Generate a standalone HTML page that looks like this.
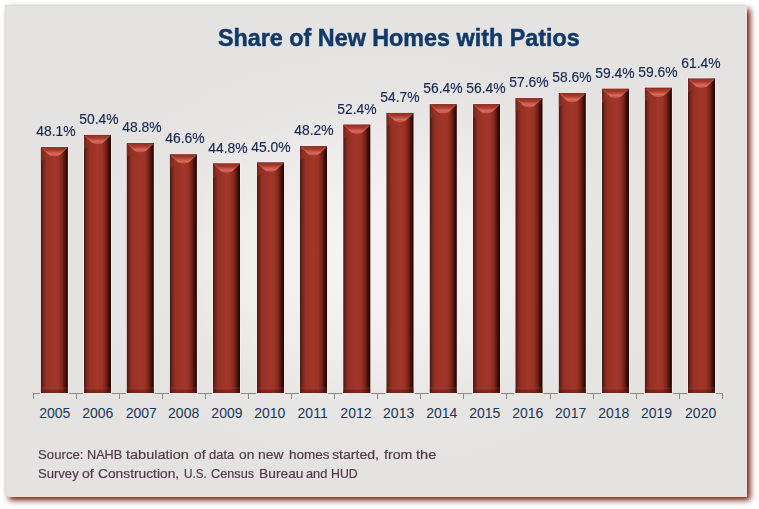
<!DOCTYPE html>
<html><head><meta charset="utf-8"><style>
html,body{margin:0;padding:0;background:#fff;width:759px;height:509px;overflow:hidden;}
body{position:relative;font-family:"Liberation Sans",sans-serif;}
.box{position:absolute;left:5px;top:5px;width:741px;height:491px;background:#e4e3e2 radial-gradient(ellipse 300px 210px at 375px 253px, rgb(245,244,242) 0%, rgb(245,244,242) 10%, rgb(244,243,241) 20%, rgb(242,241,239) 30%, rgb(240,239,237) 40%, rgb(238,237,235) 50%, rgb(235,234,233) 60%, rgb(232,231,230) 70%, rgb(230,229,228) 80%, rgb(229,228,227) 90%, rgb(228,227,226) 100%);
box-shadow:inset 0 1px 0 #dddcdb, inset 1px 0 0 #e0dfde, 3.5px 3.5px 6px rgba(100,22,12,1), -1px -1px 2px rgba(0,0,0,0.05);}
.title{position:absolute;left:218.0px;top:22.8px;font-weight:bold;font-size:24px;line-height:30px;color:#113a6a;-webkit-text-stroke:0.5px #113a6a;white-space:nowrap;transform:scaleX(0.972);transform-origin:0 0;}
.dl{position:absolute;width:60px;text-align:center;font-size:14px;color:#17264f;-webkit-text-stroke:0.15px #17264f;line-height:16px;white-space:nowrap;transform:scaleX(0.99);}
.xl{position:absolute;width:60px;text-align:center;font-size:14px;color:#1c3656;top:404.5px;line-height:16px;transform:scaleX(1.0);}
.w{position:absolute;transform-origin:0 0;-webkit-text-stroke:0.2px #523a4b;font-size:13px;color:#523a4b;white-space:nowrap;line-height:16px;}
svg{position:absolute;left:0;top:0;}
</style></head><body>
<div class="box"></div>
<div style="position:absolute;left:746px;top:7px;width:1px;height:490px;background:#fbdcd6"></div>
<div style="position:absolute;left:8px;top:496px;width:738px;height:1px;background:#fbdcd6"></div>
<svg width="759" height="509" viewBox="0 0 759 509">
<defs>
<clipPath id="bc"><rect width="27" height="20"/></clipPath>
<filter id="sb" x="-0.2" y="-0.2" width="1.4" height="1.4"><feGaussianBlur stdDeviation="0.7"/></filter>
<filter id="sb2" x="-0.2" y="-0.5" width="1.4" height="2"><feGaussianBlur stdDeviation="0.45"/></filter>
<linearGradient id="body" x1="0" x2="1" y1="0" y2="0">
<stop offset="0" stop-color="#45180f"/>
<stop offset="0.1" stop-color="#74281d"/>
<stop offset="0.2" stop-color="#963125"/>
<stop offset="0.5" stop-color="#a2362a"/>
<stop offset="0.66" stop-color="#9c3327"/>
<stop offset="0.8" stop-color="#7a241a"/>
<stop offset="0.92" stop-color="#3e0e08"/>
<stop offset="1" stop-color="#1c0603"/>
</linearGradient>
<linearGradient id="bot" x1="0" x2="0" y1="0" y2="1">
<stop offset="0" stop-color="#5a1a10" stop-opacity="0"/>
<stop offset="0.3" stop-color="#c05040" stop-opacity="0.22"/>
<stop offset="0.5" stop-color="#5a1a10" stop-opacity="0.3"/>
<stop offset="1" stop-color="#5a1a10" stop-opacity="0.6"/>
</linearGradient>
<linearGradient id="bev" x1="0" x2="0" y1="0" y2="1">
<stop offset="0" stop-color="#993226"/>
<stop offset="0.4" stop-color="#a5392c"/>
<stop offset="0.62" stop-color="#c75a4c"/>
<stop offset="0.76" stop-color="#d96b5d"/>
<stop offset="0.9" stop-color="#bd4e42"/>
<stop offset="1" stop-color="#a5382c"/>
</linearGradient>
</defs>
<rect x="33" y="393.0" width="690" height="1" fill="#8a8a8a"/>
<g transform="translate(40.90,147.20)"><rect x="-1" y="-1" width="29.0" height="247.80" fill="#f4eae8"/><rect width="27.0" height="245.80" fill="url(#body)"/><rect y="238.80" width="27.0" height="7" fill="url(#bot)"/><g clip-path="url(#bc)"><path d="M-1,0 L8.5,8 L-1,15 Z" fill="#a0362a" opacity="0.45" filter="url(#sb)"/><path d="M-1,-1 L28,-1 L18.5,8 Q13.5,10.5 8.5,8 Z" fill="url(#bev)" filter="url(#sb)"/><path d="M1,0.8 L8.6,7.6 Q13.5,9.6 18.4,7.6 L26,0.8" fill="none" stroke="#e07a6c" stroke-width="1.2" stroke-opacity="0.35" filter="url(#sb2)"/></g><rect width="27.0" height="1" fill="#7a2a20" opacity="0.5"/></g><g transform="translate(84.00,134.95)"><rect x="-1" y="-1" width="29.0" height="260.05" fill="#f4eae8"/><rect width="27.0" height="258.05" fill="url(#body)"/><rect y="251.05" width="27.0" height="7" fill="url(#bot)"/><g clip-path="url(#bc)"><path d="M-1,0 L8.5,8 L-1,15 Z" fill="#a0362a" opacity="0.45" filter="url(#sb)"/><path d="M-1,-1 L28,-1 L18.5,8 Q13.5,10.5 8.5,8 Z" fill="url(#bev)" filter="url(#sb)"/><path d="M1,0.8 L8.6,7.6 Q13.5,9.6 18.4,7.6 L26,0.8" fill="none" stroke="#e07a6c" stroke-width="1.2" stroke-opacity="0.35" filter="url(#sb2)"/></g><rect width="27.0" height="1" fill="#7a2a20" opacity="0.5"/></g><g transform="translate(126.80,143.14)"><rect x="-1" y="-1" width="29.0" height="251.86" fill="#f4eae8"/><rect width="27.0" height="249.86" fill="url(#body)"/><rect y="242.86" width="27.0" height="7" fill="url(#bot)"/><g clip-path="url(#bc)"><path d="M-1,0 L8.5,8 L-1,15 Z" fill="#a0362a" opacity="0.45" filter="url(#sb)"/><path d="M-1,-1 L28,-1 L18.5,8 Q13.5,10.5 8.5,8 Z" fill="url(#bev)" filter="url(#sb)"/><path d="M1,0.8 L8.6,7.6 Q13.5,9.6 18.4,7.6 L26,0.8" fill="none" stroke="#e07a6c" stroke-width="1.2" stroke-opacity="0.35" filter="url(#sb2)"/></g><rect width="27.0" height="1" fill="#7a2a20" opacity="0.5"/></g><g transform="translate(169.90,154.41)"><rect x="-1" y="-1" width="29.0" height="240.59" fill="#f4eae8"/><rect width="27.0" height="238.59" fill="url(#body)"/><rect y="231.59" width="27.0" height="7" fill="url(#bot)"/><g clip-path="url(#bc)"><path d="M-1,0 L8.5,8 L-1,15 Z" fill="#a0362a" opacity="0.45" filter="url(#sb)"/><path d="M-1,-1 L28,-1 L18.5,8 Q13.5,10.5 8.5,8 Z" fill="url(#bev)" filter="url(#sb)"/><path d="M1,0.8 L8.6,7.6 Q13.5,9.6 18.4,7.6 L26,0.8" fill="none" stroke="#e07a6c" stroke-width="1.2" stroke-opacity="0.35" filter="url(#sb2)"/></g><rect width="27.0" height="1" fill="#7a2a20" opacity="0.5"/></g><g transform="translate(213.00,163.62)"><rect x="-1" y="-1" width="29.0" height="231.38" fill="#f4eae8"/><rect width="27.0" height="229.38" fill="url(#body)"/><rect y="222.38" width="27.0" height="7" fill="url(#bot)"/><g clip-path="url(#bc)"><path d="M-1,0 L8.5,8 L-1,15 Z" fill="#a0362a" opacity="0.45" filter="url(#sb)"/><path d="M-1,-1 L28,-1 L18.5,8 Q13.5,10.5 8.5,8 Z" fill="url(#bev)" filter="url(#sb)"/><path d="M1,0.8 L8.6,7.6 Q13.5,9.6 18.4,7.6 L26,0.8" fill="none" stroke="#e07a6c" stroke-width="1.2" stroke-opacity="0.35" filter="url(#sb2)"/></g><rect width="27.0" height="1" fill="#7a2a20" opacity="0.5"/></g><g transform="translate(257.00,162.60)"><rect x="-1" y="-1" width="29.0" height="232.40" fill="#f4eae8"/><rect width="27.0" height="230.40" fill="url(#body)"/><rect y="223.40" width="27.0" height="7" fill="url(#bot)"/><g clip-path="url(#bc)"><path d="M-1,0 L8.5,8 L-1,15 Z" fill="#a0362a" opacity="0.45" filter="url(#sb)"/><path d="M-1,-1 L28,-1 L18.5,8 Q13.5,10.5 8.5,8 Z" fill="url(#bev)" filter="url(#sb)"/><path d="M1,0.8 L8.6,7.6 Q13.5,9.6 18.4,7.6 L26,0.8" fill="none" stroke="#e07a6c" stroke-width="1.2" stroke-opacity="0.35" filter="url(#sb2)"/></g><rect width="27.0" height="1" fill="#7a2a20" opacity="0.5"/></g><g transform="translate(300.00,146.22)"><rect x="-1" y="-1" width="29.0" height="248.78" fill="#f4eae8"/><rect width="27.0" height="246.78" fill="url(#body)"/><rect y="239.78" width="27.0" height="7" fill="url(#bot)"/><g clip-path="url(#bc)"><path d="M-1,0 L8.5,8 L-1,15 Z" fill="#a0362a" opacity="0.45" filter="url(#sb)"/><path d="M-1,-1 L28,-1 L18.5,8 Q13.5,10.5 8.5,8 Z" fill="url(#bev)" filter="url(#sb)"/><path d="M1,0.8 L8.6,7.6 Q13.5,9.6 18.4,7.6 L26,0.8" fill="none" stroke="#e07a6c" stroke-width="1.2" stroke-opacity="0.35" filter="url(#sb2)"/></g><rect width="27.0" height="1" fill="#7a2a20" opacity="0.5"/></g><g transform="translate(343.30,124.71)"><rect x="-1" y="-1" width="29.0" height="270.29" fill="#f4eae8"/><rect width="27.0" height="268.29" fill="url(#body)"/><rect y="261.29" width="27.0" height="7" fill="url(#bot)"/><g clip-path="url(#bc)"><path d="M-1,0 L8.5,8 L-1,15 Z" fill="#a0362a" opacity="0.45" filter="url(#sb)"/><path d="M-1,-1 L28,-1 L18.5,8 Q13.5,10.5 8.5,8 Z" fill="url(#bev)" filter="url(#sb)"/><path d="M1,0.8 L8.6,7.6 Q13.5,9.6 18.4,7.6 L26,0.8" fill="none" stroke="#e07a6c" stroke-width="1.2" stroke-opacity="0.35" filter="url(#sb2)"/></g><rect width="27.0" height="1" fill="#7a2a20" opacity="0.5"/></g><g transform="translate(386.50,112.94)"><rect x="-1" y="-1" width="29.0" height="282.06" fill="#f4eae8"/><rect width="27.0" height="280.06" fill="url(#body)"/><rect y="273.06" width="27.0" height="7" fill="url(#bot)"/><g clip-path="url(#bc)"><path d="M-1,0 L8.5,8 L-1,15 Z" fill="#a0362a" opacity="0.45" filter="url(#sb)"/><path d="M-1,-1 L28,-1 L18.5,8 Q13.5,10.5 8.5,8 Z" fill="url(#bev)" filter="url(#sb)"/><path d="M1,0.8 L8.6,7.6 Q13.5,9.6 18.4,7.6 L26,0.8" fill="none" stroke="#e07a6c" stroke-width="1.2" stroke-opacity="0.35" filter="url(#sb2)"/></g><rect width="27.0" height="1" fill="#7a2a20" opacity="0.5"/></g><g transform="translate(429.80,104.23)"><rect x="-1" y="-1" width="29.0" height="290.77" fill="#f4eae8"/><rect width="27.0" height="288.77" fill="url(#body)"/><rect y="281.77" width="27.0" height="7" fill="url(#bot)"/><g clip-path="url(#bc)"><path d="M-1,0 L8.5,8 L-1,15 Z" fill="#a0362a" opacity="0.45" filter="url(#sb)"/><path d="M-1,-1 L28,-1 L18.5,8 Q13.5,10.5 8.5,8 Z" fill="url(#bev)" filter="url(#sb)"/><path d="M1,0.8 L8.6,7.6 Q13.5,9.6 18.4,7.6 L26,0.8" fill="none" stroke="#e07a6c" stroke-width="1.2" stroke-opacity="0.35" filter="url(#sb2)"/></g><rect width="27.0" height="1" fill="#7a2a20" opacity="0.5"/></g><g transform="translate(473.00,104.23)"><rect x="-1" y="-1" width="29.0" height="290.77" fill="#f4eae8"/><rect width="27.0" height="288.77" fill="url(#body)"/><rect y="281.77" width="27.0" height="7" fill="url(#bot)"/><g clip-path="url(#bc)"><path d="M-1,0 L8.5,8 L-1,15 Z" fill="#a0362a" opacity="0.45" filter="url(#sb)"/><path d="M-1,-1 L28,-1 L18.5,8 Q13.5,10.5 8.5,8 Z" fill="url(#bev)" filter="url(#sb)"/><path d="M1,0.8 L8.6,7.6 Q13.5,9.6 18.4,7.6 L26,0.8" fill="none" stroke="#e07a6c" stroke-width="1.2" stroke-opacity="0.35" filter="url(#sb2)"/></g><rect width="27.0" height="1" fill="#7a2a20" opacity="0.5"/></g><g transform="translate(515.50,98.09)"><rect x="-1" y="-1" width="29.0" height="296.91" fill="#f4eae8"/><rect width="27.0" height="294.91" fill="url(#body)"/><rect y="287.91" width="27.0" height="7" fill="url(#bot)"/><g clip-path="url(#bc)"><path d="M-1,0 L8.5,8 L-1,15 Z" fill="#a0362a" opacity="0.45" filter="url(#sb)"/><path d="M-1,-1 L28,-1 L18.5,8 Q13.5,10.5 8.5,8 Z" fill="url(#bev)" filter="url(#sb)"/><path d="M1,0.8 L8.6,7.6 Q13.5,9.6 18.4,7.6 L26,0.8" fill="none" stroke="#e07a6c" stroke-width="1.2" stroke-opacity="0.35" filter="url(#sb2)"/></g><rect width="27.0" height="1" fill="#7a2a20" opacity="0.5"/></g><g transform="translate(558.80,92.97)"><rect x="-1" y="-1" width="29.0" height="302.03" fill="#f4eae8"/><rect width="27.0" height="300.03" fill="url(#body)"/><rect y="293.03" width="27.0" height="7" fill="url(#bot)"/><g clip-path="url(#bc)"><path d="M-1,0 L8.5,8 L-1,15 Z" fill="#a0362a" opacity="0.45" filter="url(#sb)"/><path d="M-1,-1 L28,-1 L18.5,8 Q13.5,10.5 8.5,8 Z" fill="url(#bev)" filter="url(#sb)"/><path d="M1,0.8 L8.6,7.6 Q13.5,9.6 18.4,7.6 L26,0.8" fill="none" stroke="#e07a6c" stroke-width="1.2" stroke-opacity="0.35" filter="url(#sb2)"/></g><rect width="27.0" height="1" fill="#7a2a20" opacity="0.5"/></g><g transform="translate(602.00,88.87)"><rect x="-1" y="-1" width="29.0" height="306.13" fill="#f4eae8"/><rect width="27.0" height="304.13" fill="url(#body)"/><rect y="297.13" width="27.0" height="7" fill="url(#bot)"/><g clip-path="url(#bc)"><path d="M-1,0 L8.5,8 L-1,15 Z" fill="#a0362a" opacity="0.45" filter="url(#sb)"/><path d="M-1,-1 L28,-1 L18.5,8 Q13.5,10.5 8.5,8 Z" fill="url(#bev)" filter="url(#sb)"/><path d="M1,0.8 L8.6,7.6 Q13.5,9.6 18.4,7.6 L26,0.8" fill="none" stroke="#e07a6c" stroke-width="1.2" stroke-opacity="0.35" filter="url(#sb2)"/></g><rect width="27.0" height="1" fill="#7a2a20" opacity="0.5"/></g><g transform="translate(644.90,87.85)"><rect x="-1" y="-1" width="29.0" height="307.15" fill="#f4eae8"/><rect width="27.0" height="305.15" fill="url(#body)"/><rect y="298.15" width="27.0" height="7" fill="url(#bot)"/><g clip-path="url(#bc)"><path d="M-1,0 L8.5,8 L-1,15 Z" fill="#a0362a" opacity="0.45" filter="url(#sb)"/><path d="M-1,-1 L28,-1 L18.5,8 Q13.5,10.5 8.5,8 Z" fill="url(#bev)" filter="url(#sb)"/><path d="M1,0.8 L8.6,7.6 Q13.5,9.6 18.4,7.6 L26,0.8" fill="none" stroke="#e07a6c" stroke-width="1.2" stroke-opacity="0.35" filter="url(#sb2)"/></g><rect width="27.0" height="1" fill="#7a2a20" opacity="0.5"/></g><g transform="translate(688.00,78.63)"><rect x="-1" y="-1" width="29.0" height="316.37" fill="#f4eae8"/><rect width="27.0" height="314.37" fill="url(#body)"/><rect y="307.37" width="27.0" height="7" fill="url(#bot)"/><g clip-path="url(#bc)"><path d="M-1,0 L8.5,8 L-1,15 Z" fill="#a0362a" opacity="0.45" filter="url(#sb)"/><path d="M-1,-1 L28,-1 L18.5,8 Q13.5,10.5 8.5,8 Z" fill="url(#bev)" filter="url(#sb)"/><path d="M1,0.8 L8.6,7.6 Q13.5,9.6 18.4,7.6 L26,0.8" fill="none" stroke="#e07a6c" stroke-width="1.2" stroke-opacity="0.35" filter="url(#sb2)"/></g><rect width="27.0" height="1" fill="#7a2a20" opacity="0.5"/></g>
<rect x="33" y="393.0" width="1" height="6" fill="#8a8a8a"/><rect x="76" y="393.0" width="1" height="6" fill="#8a8a8a"/><rect x="119" y="393.0" width="1" height="6" fill="#8a8a8a"/><rect x="162" y="393.0" width="1" height="6" fill="#8a8a8a"/><rect x="205" y="393.0" width="1" height="6" fill="#8a8a8a"/><rect x="248" y="393.0" width="1" height="6" fill="#8a8a8a"/><rect x="291" y="393.0" width="1" height="6" fill="#8a8a8a"/><rect x="334" y="393.0" width="1" height="6" fill="#8a8a8a"/><rect x="377" y="393.0" width="1" height="6" fill="#8a8a8a"/><rect x="420" y="393.0" width="1" height="6" fill="#8a8a8a"/><rect x="463" y="393.0" width="1" height="6" fill="#8a8a8a"/><rect x="506" y="393.0" width="1" height="6" fill="#8a8a8a"/><rect x="550" y="393.0" width="1" height="6" fill="#8a8a8a"/><rect x="593" y="393.0" width="1" height="6" fill="#8a8a8a"/><rect x="636" y="393.0" width="1" height="6" fill="#8a8a8a"/><rect x="679" y="393.0" width="1" height="6" fill="#8a8a8a"/><rect x="722" y="393.0" width="1" height="6" fill="#8a8a8a"/>
</svg>
<div class="title">Share of New Homes with Patios</div>
<div class="dl" style="left:26.00px;top:123.20px">48.1%</div><div class="dl" style="left:68.80px;top:110.95px">50.4%</div><div class="dl" style="left:111.75px;top:119.14px">48.8%</div><div class="dl" style="left:154.60px;top:130.41px">46.6%</div><div class="dl" style="left:197.80px;top:139.62px">44.8%</div><div class="dl" style="left:240.80px;top:138.60px">45.0%</div><div class="dl" style="left:283.50px;top:122.22px">48.2%</div><div class="dl" style="left:326.60px;top:100.71px">52.4%</div><div class="dl" style="left:369.70px;top:88.94px">54.7%</div><div class="dl" style="left:412.80px;top:80.23px">56.4%</div><div class="dl" style="left:455.90px;top:80.23px">56.4%</div><div class="dl" style="left:498.90px;top:74.09px">57.6%</div><div class="dl" style="left:541.70px;top:68.97px">58.6%</div><div class="dl" style="left:584.90px;top:64.87px">59.4%</div><div class="dl" style="left:627.85px;top:63.85px">59.6%</div><div class="dl" style="left:670.75px;top:54.63px">61.4%</div>
<div class="xl" style="left:24.75px">2005</div><div class="xl" style="left:67.75px">2006</div><div class="xl" style="left:111.25px">2007</div><div class="xl" style="left:153.65px">2008</div><div class="xl" style="left:196.95px">2009</div><div class="xl" style="left:239.75px">2010</div><div class="xl" style="left:282.65px">2011</div><div class="xl" style="left:325.95px">2012</div><div class="xl" style="left:368.65px">2013</div><div class="xl" style="left:411.75px">2014</div><div class="xl" style="left:454.75px">2015</div><div class="xl" style="left:497.85px">2016</div><div class="xl" style="left:540.65px">2017</div><div class="xl" style="left:583.85px">2018</div><div class="xl" style="left:626.55px">2019</div><div class="xl" style="left:670.65px">2020</div>
<span class="w" style="left:38.30px;top:447px;transform:scaleX(1.016)">Source:</span><span class="w" style="left:87.30px;top:447px;transform:scaleX(0.975)">NAHB</span><span class="w" style="left:126.30px;top:447px;transform:scaleX(1.115)">tabulation</span><span class="w" style="left:193.50px;top:447px;transform:scaleX(1.055)">of</span><span class="w" style="left:209.30px;top:447px;transform:scaleX(0.996)">data</span><span class="w" style="left:239.00px;top:447px;transform:scaleX(1.062)">on</span><span class="w" style="left:258.30px;top:447px;transform:scaleX(1.071)">new</span><span class="w" style="left:288.50px;top:447px;transform:scaleX(1.038)">homes</span><span class="w" style="left:332.00px;top:447px;transform:scaleX(1.085)">started,</span><span class="w" style="left:383.60px;top:447px;transform:scaleX(1.088)">from</span><span class="w" style="left:415.90px;top:447px;transform:scaleX(1.120)">the</span><span class="w" style="left:38.30px;top:466px;transform:scaleX(1.005)">Survey</span><span class="w" style="left:82.40px;top:466px;transform:scaleX(1.083)">of</span><span class="w" style="left:98.20px;top:466px;transform:scaleX(1.059)">Construction,</span><span class="w" style="left:184.20px;top:466px;transform:scaleX(0.901)">U.S.</span><span class="w" style="left:211.30px;top:466px;transform:scaleX(0.977)">Census</span><span class="w" style="left:258.90px;top:466px;transform:scaleX(1.062)">Bureau</span><span class="w" style="left:305.70px;top:466px;transform:scaleX(0.982)">and</span><span class="w" style="left:331.00px;top:466px;transform:scaleX(0.947)">HUD</span>
</body></html>
